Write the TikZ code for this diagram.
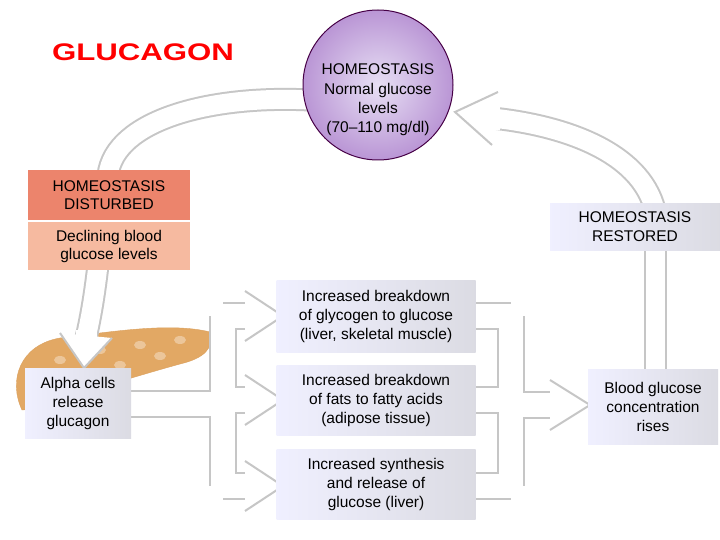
\documentclass[tikz,border=0pt]{standalone}
\usepackage{fontspec}
\setmainfont{Liberation Sans}
\begin{document}
\begin{tikzpicture}[x=1pt,y=-1pt,
  box/.style={draw=none,left color=blue!6!white,right color=blue!12!gray!25,align=center,font=\fontsize{15.5}{19}\selectfont,inner sep=0pt},
  gband/.style={draw=gray!45,line width=28pt,line join=miter,line cap=butt},
  wband/.style={draw=white,line width=24pt,line join=miter,line cap=butt},
  gbig/.style={draw=gray!45,line width=23pt,line cap=butt},
  wbig/.style={draw=white,line width=19pt,line cap=butt}]
\useasboundingbox (0,0) rectangle (720,540);
\fill[white] (0,0) rectangle (720,540);
\node[font=\fontsize{24}{28}\bfseries\selectfont,text=red,xscale=1.3] (title) at (143,52) {GLUCAGON};
% pancreas
\definecolor{panc}{RGB}{226,168,100}
\fill[panc,draw=panc!80!brown] (22,410) .. controls (8,380) and (20,345) .. (60,338) .. controls (110,332) and (170,322) .. (210,332) .. controls (214,348) and (205,358) .. (180,364) .. controls (140,375) and (110,385) .. (60,398) .. controls (40,404) and (30,410) .. (22,410) -- cycle;
\foreach \p in {(60,360),(100,350),(140,345),(180,340),(80,378),(120,365),(160,356),(40,385)}
  \fill[white,opacity=0.35] \p ellipse (6 and 4);
% branching bands
\foreach \s in {gband,wband}{
 \draw[\s] (120,404) -- (223,404);
 \draw[\s] (223,316) -- (223,486);
 \draw[\s] (223,316) -- (250,316);
 \draw[\s] (223,400) -- (250,400);
 \draw[\s] (223,486) -- (250,486);
 \draw[\s] (470,316) -- (511,316);
 \draw[\s] (470,400) -- (511,400);
 \draw[\s] (470,486) -- (511,486);
 \draw[\s] (511,316) -- (511,486);
 \draw[\s] (511,405) -- (556,405);
}
\foreach \y in {316,400,486}{
 \filldraw[white,draw=gray!45,line width=2pt] (245,\y-25) -- (283,\y) -- (245,\y+25);
 \fill[white] (235,\y-11) rectangle (250,\y+11);}
\filldraw[white,draw=gray!45,line width=2pt] (550,380) -- (590,405) -- (550,430);
\fill[white] (540,394) rectangle (555,416);
% big arrows
\foreach \s in {gbig,wbig}{
 \draw[\s] (310,100) .. controls (210,95) and (115,120) .. (108,175);
 \draw[\s] (98,265) .. controls (94,300) and (90,320) .. (86,338);
 \draw[\s] (655,375) -- (655,245);
 \draw[\s] (655,210) .. controls (640,150) and (560,125) .. (492,118);
}
\filldraw[white,draw=gray!45,line width=2pt] (60,333) -- (84,368) -- (112,338);
\fill[white] (76,330) rectangle (97,342);
\filldraw[white,draw=gray!45,line width=2pt] (498,92) -- (455,112) -- (492,145);
\fill[white] (488,106) rectangle (500,130);
% circle
\definecolor{circ}{RGB}{196,176,228}
\shade[inner color=circ!40!white,outer color=circ!85!violet,draw=violet!55!black,line width=1pt] (378,85) circle (75);
\node[align=center,font=\fontsize{15.5}{19}\selectfont] (home) at (378,100) {HOMEOSTASIS\\[1pt]Normal glucose\\levels\\(70--110 mg/dl)};
% disturbed box
\node[fill={rgb,255:red,236;green,132;blue,108},minimum width=162pt,minimum height=50pt,align=center,font=\fontsize{15.5}{18}\selectfont,inner sep=0pt] (dist) at (109,195) {HOMEOSTASIS\\DISTURBED};
\node[fill={rgb,255:red,246;green,186;blue,160},minimum width=162pt,minimum height=48pt,align=center,font=\fontsize{15.5}{18}\selectfont,inner sep=0pt] (decl) at (109,246) {Declining blood\\glucose levels};
\node[box,minimum width=170pt,minimum height=47pt] (rest) at (635,227) {HOMEOSTASIS\\RESTORED};
\node[box,minimum width=106pt,minimum height=70pt] (alpha) at (78,403) {Alpha cells\\release\\glucagon};
\node[box,minimum width=199pt,minimum height=72pt] (b1) at (376,316) {Increased breakdown\\of glycogen to glucose\\(liver, skeletal muscle)};
\node[box,minimum width=199pt,minimum height=70pt] (b2) at (376,400) {Increased breakdown\\of fats to fatty acids\\(adipose tissue)};
\node[box,minimum width=199pt,minimum height=70pt] (b3) at (376,484) {Increased synthesis\\and release of\\glucose (liver)};
\node[box,minimum width=130pt,minimum height=75pt] (blood) at (653,407) {Blood glucose\\concentration\\rises};
\end{tikzpicture}
\end{document}
